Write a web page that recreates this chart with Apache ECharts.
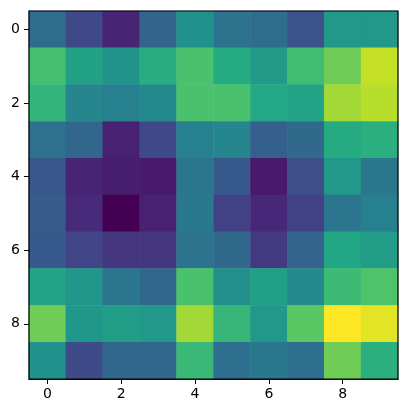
<!DOCTYPE html>
<html><head><meta charset="utf-8">
<script src="https://cdn.jsdelivr.net/npm/echarts@6/dist/echarts.min.js"></script>
<style>html,body{margin:0;padding:0;background:#fff}#c{width:408px;height:412px}</style>
</head><body><div id="c"></div>
<script>
var xLabels = ['0','1','2','3','4','5','6','7','8','9'];
var yLabels = ['0','1','2','3','4','5','6','7','8','9'];
var row0 = [0.35,0.22,0.10,0.32,0.50,0.38,0.35,0.25,0.53,0.53];
var row1 = [0.70,0.57,0.51,0.62,0.71,0.61,0.54,0.69,0.78,0.91];
var row2 = [0.65,0.45,0.43,0.47,0.71,0.71,0.60,0.58,0.86,0.89];
var row3 = [0.37,0.33,0.09,0.22,0.43,0.46,0.30,0.34,0.61,0.63];
var row4 = [0.27,0.10,0.08,0.07,0.39,0.28,0.07,0.24,0.53,0.40];
var row5 = [0.29,0.12,0.00,0.09,0.40,0.19,0.11,0.19,0.39,0.43];
var row6 = [0.28,0.20,0.16,0.16,0.38,0.34,0.17,0.32,0.59,0.55];
var row7 = [0.58,0.52,0.39,0.33,0.71,0.49,0.56,0.47,0.68,0.72];
var row8 = [0.78,0.52,0.55,0.53,0.86,0.66,0.53,0.74,1.00,0.96];
var row9 = [0.50,0.23,0.33,0.33,0.67,0.36,0.40,0.36,0.78,0.63];
var rows = [row0,row1,row2,row3,row4,row5,row6,row7,row8,row9];
var viridis = ['#440154','#482475','#414487','#355f8d','#2a788e','#21918c','#22a884','#44bf70','#7ad151','#bddf26','#fde725'];

var data = [];
rows.forEach(function(r, yi){ r.forEach(function(v, xi){ data.push([xi, yi, v]); }); });

var font = 'DejaVu Sans';
var chart = echarts.init(document.getElementById('c'), null, {renderer:'canvas'});
chart.setOption({
  animation: false,
  grid: {left: 29, top: 11, right: 10, bottom: 33, show: true, borderColor: '#000', borderWidth: 1.2, backgroundColor: 'transparent', z: 10},
  xAxis: {type:'category', data: xLabels, position:'bottom',
    axisLine:{show:true, lineStyle:{color:'#000', width:1.2}},
    axisTick:{show:true, alignWithLabel:true, interval:1, length:5, lineStyle:{color:'#000', width:1}},
    axisLabel:{interval:1, color:'#000', fontFamily:font, fontSize:14, margin:8},
    splitLine:{show:false}},
  yAxis: {type:'category', data: yLabels, inverse:true,
    axisLine:{show:true, lineStyle:{color:'#000', width:1.2}},
    axisTick:{show:true, alignWithLabel:true, interval:1, length:5, lineStyle:{color:'#000', width:1}},
    axisLabel:{interval:1, color:'#000', fontFamily:font, fontSize:14, margin:9},
    splitLine:{show:false}},
  visualMap: {show:false, min:0, max:1, dimension:2, inRange:{color: viridis}},
  series: [{type:'heatmap', data: data, itemStyle:{borderWidth:0}, emphasis:{disabled:true}}]
});
</script></body></html>
